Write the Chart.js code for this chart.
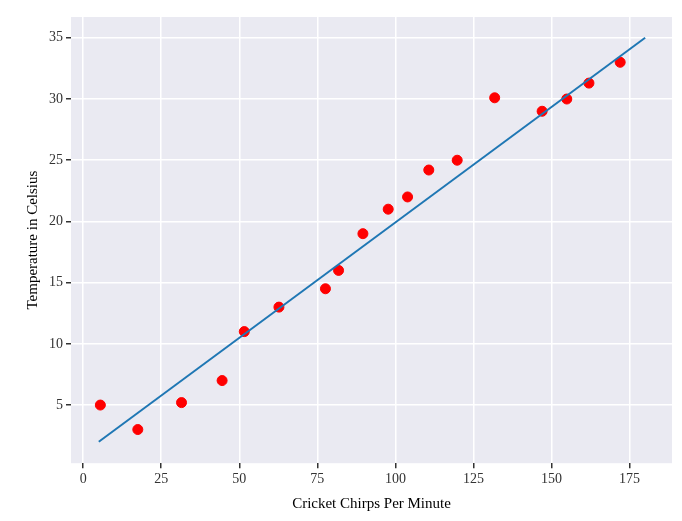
<!DOCTYPE html>
<html><head><script src="https://cdn.jsdelivr.net/npm/chart.js"></script>
<style>body{margin:0;background:#fff}#w{width:682px;height:521px}</style></head>
<body><div id="w"><canvas id="c"></canvas></div>
<script>
const chirps=[5.5,17.5,31.5,44.5,51.6,62.7,77.6,81.8,89.6,97.7,103.9,110.7,119.8,131.8,147,154.9,162,172];
const temps=[5,3,5.2,7,11,13,14.5,16,19,21,22,24.2,25,30.1,29,30,31.3,33];
const fitX=[5,180];
const fitY=[2,35];
const bg={id:'bg',beforeDraw(c){const a=c.chartArea,x=c.ctx;x.save();x.fillStyle='#eaeaf2';x.fillRect(a.left,a.top,a.right-a.left,a.bottom-a.top);x.restore();}};
Chart.defaults.font.family="'Liberation Serif','DejaVu Serif',serif";
Chart.defaults.font.size=14;
Chart.defaults.color='#333';
new Chart(document.getElementById('c'),{
type:'scatter',
data:{datasets:[
{type:'line',data:fitX.map((v,i)=>({x:v,y:fitY[i]})),borderColor:'#1f77b4',borderWidth:2,pointRadius:0,fill:false},
{data:chirps.map((v,i)=>({x:v,y:temps[i]})),backgroundColor:'#ff0000',borderColor:'#ff0000',pointRadius:5}
]},
plugins:[bg],
options:{responsive:true,maintainAspectRatio:false,animation:false,
layout:{padding:{left:20,right:10,top:17,bottom:4}},
plugins:{legend:{display:false},tooltip:{enabled:false}},
scales:{
x:{type:'linear',min:-3.9,max:188.6,afterBuildTicks(s){s.ticks=[0,25,50,75,100,125,150,175].map(v=>({value:v}));},
grid:{color:'#fff',lineWidth:1.5,drawTicks:true,tickLength:5,tickColor:'#333'},border:{display:false},
title:{display:true,text:'Cricket Chirps Per Minute',font:{size:15},color:'#000'}},
y:{min:0.25,max:36.7,afterBuildTicks(s){s.ticks=[5,10,15,20,25,30,35].map(v=>({value:v}));},
grid:{color:'#fff',lineWidth:1.5,tickLength:5,tickColor:'#333'},border:{display:false},
title:{display:true,text:'Temperature in Celsius',font:{size:15},color:'#000'}}
}}});
</script></body></html>
